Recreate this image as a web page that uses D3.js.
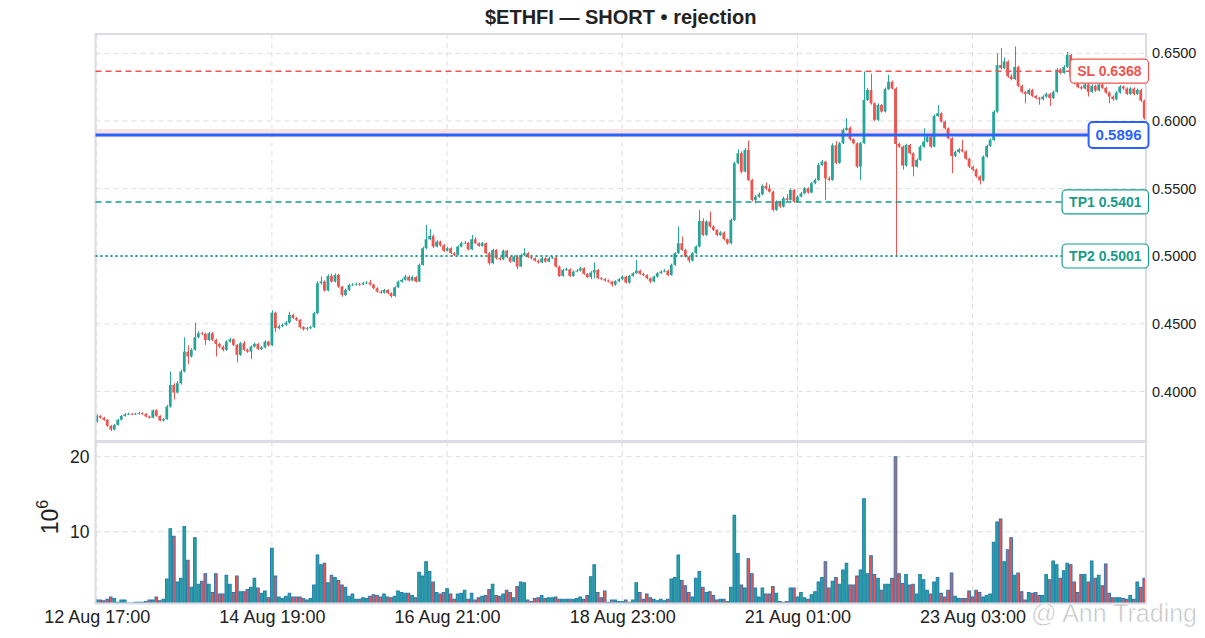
<!DOCTYPE html>
<html>
<head>
<meta charset="utf-8">
<script src="https://cdn.jsdelivr.net/npm/d3@7"></script>
<style>
  body { margin: 0; background: #fff; }
  svg { display: block; font-family: "Liberation Sans", Arial, sans-serif; }
</style>
</head>
<body>
<div id="chart"></div>
<script>
// hourly candles, 12 Aug 17:00 onwards
const chartTitle = "$ETHFI — SHORT • rejection";
const firstOpen = 0.3777;

const closes = [
  0.3819,0.3805,0.3790,0.3745,0.3718,0.3752,0.3790,0.3818,0.3830,0.3834,
  0.3830,0.3834,0.3838,0.3834,0.3814,0.3805,0.3860,0.3819,0.3784,0.3795,
  0.3888,0.4048,0.3991,0.4060,0.4147,0.4294,0.4258,0.4307,0.4400,0.4430,
  0.4425,0.4380,0.4430,0.4381,0.4351,0.4331,0.4307,0.4368,0.4385,0.4344,
  0.4270,0.4356,0.4307,0.4294,0.4331,0.4351,0.4312,0.4325,0.4368,0.4340,
  0.4582,0.4467,0.4482,0.4492,0.4509,0.4566,0.4541,0.4529,0.4475,0.4460,
  0.4467,0.4475,0.4578,0.4800,0.4812,0.4746,0.4854,0.4812,0.4861,0.4775,
  0.4713,0.4750,0.4787,0.4790,0.4795,0.4790,0.4800,0.4805,0.4790,0.4763,
  0.4738,0.4730,0.4750,0.4726,0.4705,0.4770,0.4812,0.4825,0.4849,0.4820,
  0.4845,0.4812,0.4935,0.5059,0.5125,0.5150,0.5071,0.5108,0.5080,0.5040,
  0.5059,0.5022,0.5010,0.5071,0.5096,0.5100,0.5050,0.5125,0.5096,0.5076,
  0.5096,0.5022,0.4948,0.5046,0.4985,0.4977,0.5041,0.4992,0.4960,0.4997,
  0.4923,0.5009,0.5022,0.4992,0.4985,0.4967,0.4953,0.4985,0.4960,0.4985,
  0.4990,0.4923,0.4854,0.4898,0.4903,0.4854,0.4886,0.4893,0.4911,0.4869,
  0.4845,0.4879,0.4898,0.4837,0.4830,0.4820,0.4812,0.4790,0.4815,0.4830,
  0.4849,0.4805,0.4854,0.4874,0.4893,0.4869,0.4860,0.4837,0.4812,0.4849,
  0.4874,0.4886,0.4893,0.4860,0.4935,0.5022,0.5096,0.5046,0.4997,0.4967,
  0.5022,0.5071,0.5260,0.5157,0.5256,0.5219,0.5194,0.5157,0.5175,0.5125,
  0.5095,0.5268,0.5687,0.5761,0.5625,0.5786,0.5564,0.5416,0.5440,0.5458,
  0.5520,0.5500,0.5477,0.5342,0.5403,0.5367,0.5428,0.5416,0.5490,0.5403,
  0.5440,0.5465,0.5502,0.5470,0.5539,0.5564,0.5674,0.5700,0.5575,0.5564,
  0.5820,0.5690,0.5835,0.5934,0.5950,0.5865,0.5835,0.5662,0.5835,0.6155,
  0.6229,0.6130,0.6008,0.6118,0.6070,0.6235,0.6290,0.6240,0.5830,0.5810,
  0.5670,0.5822,0.5761,0.5662,0.5712,0.5810,0.5847,0.5884,0.5810,0.6037,
  0.6057,0.5995,0.5945,0.5872,0.5740,0.5770,0.5790,0.5775,0.5720,0.5662,
  0.5640,0.5590,0.5560,0.5736,0.5815,0.5860,0.6069,0.6414,0.6390,0.6440,
  0.6330,0.6310,0.6400,0.6260,0.6215,0.6200,0.6230,0.6185,0.6170,0.6160,
  0.6180,0.6200,0.6170,0.6215,0.6380,0.6355,0.6400,0.6488,0.6330,0.6280,
  0.6250,0.6240,0.6270,0.6215,0.6260,0.6225,0.6270,0.6245,0.6210,0.6180,
  0.6160,0.6210,0.6255,0.6240,0.6200,0.6240,0.6200,0.6230,0.6150,0.6020
];

const highs = [
  0.3830,0.3825,0.3812,0.3795,0.3752,0.3758,0.3796,0.3826,0.3840,0.3842,
  0.3840,0.3842,0.3848,0.3845,0.3840,0.3820,0.3866,0.3868,0.3824,0.3802,
  0.3900,0.4147,0.4060,0.4075,0.4160,0.4400,0.4340,0.4320,0.4509,0.4445,
  0.4440,0.4435,0.4440,0.4438,0.4390,0.4360,0.4340,0.4378,0.4398,0.4392,
  0.4350,0.4366,0.4372,0.4318,0.4340,0.4362,0.4358,0.4335,0.4378,0.4374,
  0.4600,0.4590,0.4495,0.4502,0.4520,0.4590,0.4575,0.4550,0.4535,0.4482,
  0.4478,0.4485,0.4590,0.4815,0.4850,0.4820,0.4865,0.4870,0.4872,0.4868,
  0.4780,0.4760,0.4795,0.4800,0.4805,0.4802,0.4812,0.4815,0.4825,0.4796,
  0.4770,0.4748,0.4758,0.4756,0.4732,0.4778,0.4820,0.4835,0.4862,0.4858,
  0.4856,0.4852,0.4945,0.5070,0.5232,0.5200,0.5160,0.5118,0.5115,0.5090,
  0.5070,0.5066,0.5030,0.5080,0.5108,0.5112,0.5106,0.5157,0.5140,0.5102,
  0.5105,0.5100,0.5030,0.5055,0.5052,0.4995,0.5050,0.5048,0.4998,0.5005,
  0.5005,0.5018,0.5059,0.5030,0.5000,0.4992,0.4975,0.4995,0.4992,0.4995,
  0.5000,0.4996,0.4930,0.4908,0.4915,0.4910,0.4895,0.4905,0.4922,0.4918,
  0.4875,0.4890,0.4953,0.4905,0.4845,0.4838,0.4828,0.4818,0.4822,0.4838,
  0.4858,0.4855,0.4862,0.4882,0.4972,0.4900,0.4878,0.4866,0.4842,0.4856,
  0.4882,0.4895,0.4905,0.4900,0.4945,0.5030,0.5219,0.5145,0.5055,0.5005,
  0.5030,0.5080,0.5342,0.5280,0.5266,0.5330,0.5228,0.5200,0.5185,0.5182,
  0.5130,0.5278,0.5700,0.5790,0.5775,0.5800,0.5855,0.5572,0.5452,0.5470,
  0.5530,0.5545,0.5530,0.5485,0.5412,0.5410,0.5440,0.5460,0.5500,0.5498,
  0.5452,0.5475,0.5512,0.5510,0.5548,0.5575,0.5690,0.5712,0.5705,0.5590,
  0.5835,0.5850,0.5845,0.5945,0.6020,0.5958,0.5872,0.5842,0.5845,0.6365,
  0.6245,0.6350,0.6138,0.6130,0.6125,0.6248,0.6340,0.6298,0.6250,0.5840,
  0.5818,0.5832,0.5830,0.5768,0.5722,0.5820,0.5945,0.5895,0.5892,0.6048,
  0.6118,0.6065,0.6002,0.5952,0.5880,0.5780,0.5800,0.5860,0.5782,0.5728,
  0.5670,0.5648,0.5598,0.5745,0.5825,0.5870,0.6080,0.6500,0.6540,0.6470,
  0.6448,0.6345,0.6550,0.6408,0.6268,0.6222,0.6240,0.6238,0.6192,0.6178,
  0.6190,0.6210,0.6208,0.6225,0.6392,0.6390,0.6412,0.6510,0.6495,0.6338,
  0.6288,0.6260,0.6280,0.6278,0.6270,0.6268,0.6280,0.6278,0.6252,0.6218,
  0.6188,0.6220,0.6265,0.6262,0.6248,0.6250,0.6248,0.6240,0.6238,0.6158
];

const lows = [
  0.3770,0.3798,0.3782,0.3738,0.3706,0.3712,0.3748,0.3786,0.3812,0.3824,
  0.3824,0.3826,0.3828,0.3826,0.3808,0.3798,0.3800,0.3812,0.3778,0.3778,
  0.3790,0.3880,0.3940,0.3985,0.4050,0.4140,0.4200,0.4250,0.4300,0.4392,
  0.4415,0.4344,0.4372,0.4372,0.4258,0.4320,0.4296,0.4300,0.4360,0.4335,
  0.4213,0.4262,0.4298,0.4285,0.4238,0.4325,0.4305,0.4305,0.4318,0.4332,
  0.4335,0.4440,0.4458,0.4475,0.4485,0.4502,0.4535,0.4520,0.4465,0.4450,
  0.4452,0.4460,0.4470,0.4570,0.4790,0.4738,0.4740,0.4805,0.4805,0.4765,
  0.4700,0.4705,0.4742,0.4780,0.4782,0.4782,0.4785,0.4795,0.4782,0.4755,
  0.4730,0.4722,0.4724,0.4718,0.4692,0.4700,0.4765,0.4805,0.4818,0.4812,
  0.4815,0.4805,0.4808,0.4930,0.5050,0.5118,0.5060,0.5065,0.5070,0.5030,
  0.5035,0.5015,0.5000,0.5005,0.5065,0.5090,0.5042,0.5045,0.5088,0.5068,
  0.5070,0.5015,0.4935,0.4940,0.4975,0.4968,0.4970,0.4985,0.4950,0.4955,
  0.4905,0.4918,0.5000,0.4985,0.4975,0.4960,0.4945,0.4948,0.4952,0.4955,
  0.4978,0.4915,0.4845,0.4848,0.4890,0.4845,0.4848,0.4880,0.4886,0.4862,
  0.4838,0.4830,0.4835,0.4830,0.4822,0.4812,0.4805,0.4775,0.4780,0.4808,
  0.4822,0.4798,0.4795,0.4848,0.4868,0.4862,0.4852,0.4828,0.4800,0.4806,
  0.4842,0.4868,0.4880,0.4852,0.4855,0.4928,0.5015,0.5040,0.4990,0.4950,
  0.4960,0.5015,0.5065,0.5148,0.5150,0.5210,0.5185,0.5148,0.5150,0.5115,
  0.5085,0.5088,0.5260,0.5680,0.5612,0.5620,0.5555,0.5405,0.5390,0.5432,
  0.5450,0.5490,0.5470,0.5330,0.5335,0.5358,0.5360,0.5408,0.5410,0.5395,
  0.5398,0.5435,0.5458,0.5462,0.5465,0.5532,0.5558,0.5668,0.5416,0.5555,
  0.5558,0.5680,0.5684,0.5828,0.5928,0.5855,0.5826,0.5650,0.5564,0.5828,
  0.6148,0.6120,0.5998,0.6000,0.6062,0.6062,0.6228,0.6232,0.5005,0.5800,
  0.5640,0.5662,0.5752,0.5590,0.5655,0.5705,0.5802,0.5840,0.5800,0.5805,
  0.6030,0.5988,0.5938,0.5865,0.5613,0.5732,0.5762,0.5768,0.5712,0.5652,
  0.5630,0.5580,0.5530,0.5552,0.5728,0.5808,0.5852,0.6060,0.6380,0.6382,
  0.6320,0.6300,0.6302,0.6250,0.6205,0.6130,0.6192,0.6175,0.6160,0.6120,
  0.6152,0.6172,0.6110,0.6162,0.6208,0.6345,0.6348,0.6392,0.6320,0.6270,
  0.6242,0.6230,0.6232,0.6180,0.6208,0.6215,0.6218,0.6236,0.6200,0.6130,
  0.6150,0.6152,0.6202,0.6230,0.6192,0.6192,0.6190,0.6192,0.6140,0.6010
];

// volume in millions
const volumes = [
  0.9,0.9,0.8,1.0,1.3,1.1,0.6,0.9,0.9,0.5,
  0.5,0.6,0.6,0.6,0.7,0.9,0.9,1.3,0.8,1.0,
  3.7,10.4,9.4,3.3,3.8,10.7,6.2,2.6,9.2,3.0,
  3.4,4.4,3.0,1.9,4.4,1.7,1.7,4.2,3.0,1.9,
  4.1,2.0,2.0,2.3,2.6,3.8,2.5,1.8,2.1,1.2,
  7.8,4.1,1.3,1.1,1.4,1.8,1.3,1.3,1.3,1.1,
  0.9,1.1,2.9,6.9,5.6,5.8,3.2,4.2,3.9,3.5,
  2.9,2.6,1.4,1.7,1.0,1.0,1.2,1.1,1.4,1.6,
  1.5,1.3,1.7,1.3,1.2,1.4,2.1,1.9,1.8,1.8,
  1.5,1.2,4.6,4.1,6.0,4.7,3.3,1.9,1.7,1.9,
  2.4,1.7,1.0,1.7,1.8,2.2,1.0,1.8,0.9,1.2,
  1.4,1.5,2.3,3.0,1.5,1.4,1.7,2.2,1.9,1.2,
  2.7,3.3,3.2,0.9,0.7,1.1,1.2,1.5,1.1,1.2,
  1.2,1.3,1.0,1.0,1.0,1.0,1.0,1.1,1.3,1.0,
  1.5,4.0,5.6,1.9,1.2,2.1,0.6,0.9,0.9,0.7,
  0.7,0.9,0.6,0.9,3.2,1.9,1.0,1.7,1.2,1.0,
  0.8,1.0,0.8,1.0,3.7,3.9,6.9,3.5,2.8,1.9,
  1.3,3.8,4.7,2.6,1.9,2.0,1.5,0.9,1.0,1.0,
  0.7,2.6,12.2,7.1,2.9,2.5,6.4,4.4,2.5,1.3,
  2.5,1.7,1.7,2.7,1.8,0.7,0.6,0.7,2.5,2.5,
  1.3,1.9,1.2,1.0,1.6,2.0,3.3,3.9,6.0,2.5,
  3.4,3.9,3.0,4.9,5.8,2.9,2.9,4.1,4.9,14.4,
  4.4,6.8,4.3,3.8,2.2,3.0,3.0,3.8,20.0,4.4,
  3.1,4.3,2.9,3.0,1.7,4.3,3.6,2.2,1.7,3.3,
  3.9,1.8,1.3,2.2,4.5,1.4,1.1,1.1,1.1,2.1,
  1.3,2.2,1.9,1.3,1.5,1.7,8.6,11.3,11.7,6.0,
  7.6,9.2,4.2,4.5,2.0,0.9,1.9,1.8,1.9,1.5,
  1.5,4.3,3.6,6.1,5.6,3.8,4.8,5.8,5.6,3.3,
  1.9,4.3,4.3,3.3,6.1,3.8,4.2,2.8,5.7,1.8,
  1.2,1.2,1.2,1.1,1.0,1.5,1.0,3.3,2.6,3.8
];

const xTickIndex = [0, 50, 100, 150, 200, 250];
const xTickLabels = ["12 Aug 17:00", "14 Aug 19:00", "16 Aug 21:00", "18 Aug 23:00", "21 Aug 01:00", "23 Aug 03:00"];
const priceTicks = [0.40, 0.45, 0.50, 0.55, 0.60, 0.65];
const volumeTicks = [10, 20];

const slPrice = 0.6368;
const entryPrice = 0.5896;
const tp1Price = 0.5401;
const tp2Price = 0.5001;
const entryZone = [0.5882, 0.5940];

const colors = {
  up: "#26a69a",
  down: "#ef5350",
  volEdge: "#1f77b4",
  entry: "#2962ff",
  tp: "#179b8a",
  grid: "#dedede",
  frame: "#dcdce6",
  text: "#222"
};

const W = 1205, H = 638;
const left = 95.5, right = 1146;
const pTop = 34, pBottom = 441;
const vTop = 442, vBottom = 603.5;

const candles = closes.map((c, i) => ({
  i,
  o: i === 0 ? firstOpen : closes[i - 1],
  h: highs[i],
  l: lows[i],
  c,
  v: volumes[i]
}));

const svg = d3.select("#chart").append("svg")
  .attr("width", W)
  .attr("height", H);

const x = d3.scaleLinear().domain([-0.35, 299.5]).range([left, right]);
const yP = d3.scaleLinear().domain([0.3633, 0.6643]).range([pBottom, pTop]);
const yV = d3.scaleLinear().domain([0.43, 21.96]).range([vBottom, vTop]);

// grid
const grid = svg.append("g").attr("stroke", colors.grid).attr("stroke-dasharray", "5,4").attr("stroke-width", 1);
grid.selectAll(".hp").data(priceTicks).join("line")
  .attr("x1", left).attr("x2", right)
  .attr("y1", d => yP(d)).attr("y2", d => yP(d));
grid.selectAll(".hv").data(volumeTicks).join("line")
  .attr("x1", left).attr("x2", right)
  .attr("y1", d => yV(d)).attr("y2", d => yV(d));
grid.selectAll(".vp").data(xTickIndex).join("line")
  .attr("x1", d => x(d)).attr("x2", d => x(d))
  .attr("y1", pTop).attr("y2", pBottom);
grid.selectAll(".vv").data(xTickIndex).join("line")
  .attr("x1", d => x(d)).attr("x2", d => x(d))
  .attr("y1", vTop).attr("y2", vBottom);

// entry zone band
svg.append("rect")
  .attr("x", left).attr("width", right - left)
  .attr("y", yP(entryZone[1]))
  .attr("height", yP(entryZone[0]) - yP(entryZone[1]))
  .attr("fill", "rgba(239,83,80,0.16)");

// candles
const candleColor = d => (d.c >= d.o ? colors.up : colors.down);
const cg = svg.append("g");
cg.selectAll("line").data(candles).join("line")
  .attr("x1", d => Math.round(x(d.i)) + 0.5).attr("x2", d => Math.round(x(d.i)) + 0.5)
  .attr("y1", d => yP(d.h)).attr("y2", d => yP(d.l))
  .attr("stroke", candleColor)
  .attr("stroke-width", 1);
cg.selectAll("rect").data(candles).join("rect")
  .attr("x", d => x(d.i) - 1.4)
  .attr("width", 2.8)
  .attr("y", d => yP(Math.max(d.o, d.c)))
  .attr("height", d => Math.max(0.8, Math.abs(yP(d.o) - yP(d.c))))
  .attr("fill", candleColor);

// volume
svg.append("g").selectAll("rect").data(candles).join("rect")
  .attr("x", d => x(d.i) - 1.35)
  .attr("width", 2.7)
  .attr("y", d => yV(d.v))
  .attr("height", d => vBottom - yV(d.v))
  .attr("fill", candleColor)
  .attr("stroke", colors.volEdge)
  .attr("stroke-width", 0.9);

// panel frames
svg.append("rect").attr("x", left).attr("y", pTop).attr("width", right - left).attr("height", pBottom - pTop)
  .attr("fill", "none").attr("stroke", colors.frame).attr("stroke-width", 2);
svg.append("rect").attr("x", left).attr("y", vTop).attr("width", right - left).attr("height", vBottom - vTop)
  .attr("fill", "none").attr("stroke", colors.frame).attr("stroke-width", 2);

// level lines with labels
const levels = [
  { label: "SL " + slPrice.toFixed(4), value: slPrice, color: colors.down, dash: "6,4", width: 1.6, size: 14 },
  { label: entryPrice.toFixed(4), value: entryPrice, color: colors.entry, dash: null, width: 3, size: 15, bw: 2 },
  { label: "TP1 " + tp1Price.toFixed(4), value: tp1Price, color: colors.tp, dash: "6,4", width: 1.6, size: 14 },
  { label: "TP2 " + tp2Price.toFixed(4), value: tp2Price, color: colors.tp, dash: "2,3", width: 1.8, size: 14 }
];

levels.forEach(lv => {
  const yy = yP(lv.value);
  const g = svg.append("g");
  const line = g.append("line")
    .attr("x1", left).attr("y1", yy).attr("y2", yy)
    .attr("stroke", lv.color).attr("stroke-width", lv.width);
  if (lv.dash) line.attr("stroke-dasharray", lv.dash);

  const box = g.append("rect");
  const t = g.append("text")
    .attr("text-anchor", "middle")
    .attr("font-weight", "bold")
    .attr("font-size", lv.size)
    .attr("fill", lv.color)
    .text(lv.label);
  const tw = t.node().getComputedTextLength();
  const padX = 7, bh = lv.bw ? 26 : 24;
  const bx1 = 1148.5, bx0 = bx1 - tw - padX * 2;
  box.attr("x", bx0).attr("y", yy - bh / 2)
    .attr("width", bx1 - bx0).attr("height", bh)
    .attr("rx", 4)
    .attr("fill", "#fff")
    .attr("stroke", lv.color)
    .attr("stroke-width", lv.bw || 1.2);
  t.attr("x", (bx0 + bx1) / 2).attr("y", yy + lv.size * 0.36);
  line.attr("x2", bx0);
});

// axes
const priceAxis = svg.append("g")
  .attr("transform", `translate(${right},0)`)
  .call(d3.axisRight(yP).tickValues(priceTicks).tickFormat(d3.format(".4f")).tickSize(0).tickPadding(6));
const volAxis = svg.append("g")
  .attr("transform", `translate(${left},0)`)
  .call(d3.axisLeft(yV).tickValues(volumeTicks).tickSize(0).tickPadding(6));
const xAxis = svg.append("g")
  .attr("transform", `translate(0,${vBottom})`)
  .call(d3.axisBottom(x).tickValues(xTickIndex).tickFormat((d, i) => xTickLabels[i]).tickSize(0).tickPadding(7));

[priceAxis, volAxis, xAxis].forEach(a => {
  a.select(".domain").remove();
  a.selectAll("text").attr("fill", colors.text).attr("font-family", '"Liberation Sans", Arial, sans-serif');
});
priceAxis.selectAll("text").attr("font-size", 14.5);
volAxis.selectAll("text").attr("font-size", 17.5);
xAxis.selectAll("text").attr("font-size", 18);

// volume axis label 10^6
const vl = svg.append("text")
  .attr("transform", "translate(58,517) rotate(-90)")
  .attr("text-anchor", "middle")
  .attr("fill", colors.text)
  .attr("font-size", 23);
vl.append("tspan").text("10");
vl.append("tspan").attr("dy", -10).attr("font-size", 16).text("6");

// title
svg.append("text")
  .attr("x", (left + right) / 2)
  .attr("y", 24)
  .attr("text-anchor", "middle")
  .attr("font-weight", "bold")
  .attr("font-size", 20)
  .attr("fill", colors.text)
  .text(chartTitle);

// watermark
svg.append("text")
  .attr("x", 1197)
  .attr("y", 622)
  .attr("text-anchor", "end")
  .attr("font-size", 25)
  .attr("fill", "#c4c4c4")
  .attr("stroke", "#fff")
  .attr("stroke-width", 0.6)
  .text("@ Ann Trading");
</script>
</body>
</html>
